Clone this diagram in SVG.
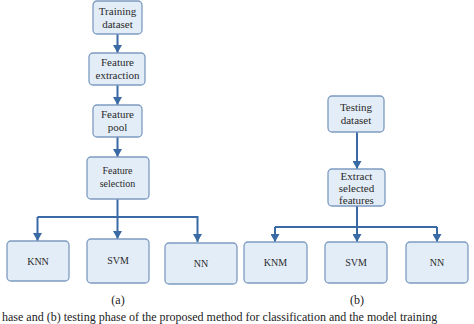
<svg xmlns="http://www.w3.org/2000/svg" width="474" height="324" viewBox="0 0 474 324">
<style>
.box{fill:#e3edf8;stroke:#7d9bc1;stroke-width:1.3}
.t{font-family:"Liberation Serif","DejaVu Serif",serif;font-size:11px;fill:#2a2a2a;text-anchor:middle}
.s{font-size:10px}
.c{fill:none;stroke:#3a6aa5;stroke-width:2}
.cap{font-family:"Liberation Serif","DejaVu Serif",serif;font-size:12px;fill:#222}
</style>
<defs>
<marker id="ah" markerUnits="userSpaceOnUse" markerWidth="10" markerHeight="9" refX="8" refY="4.5" orient="auto">
<path d="M0,0 L8,4.5 L0,9 Z" fill="#3a6aa5"/>
</marker>
</defs>
<rect width="474" height="324" fill="#ffffff"/>
<g id="connectors">
<line class="c" x1="117.5" y1="34" x2="117.5" y2="53" marker-end="url(#ah)"/>
<line class="c" x1="117.5" y1="85" x2="117.5" y2="105" marker-end="url(#ah)"/>
<line class="c" x1="117.5" y1="137" x2="117.5" y2="157" marker-end="url(#ah)"/>
<polyline class="c" points="117.5,199 117.5,217"/>
<polyline class="c" points="37.5,217 197.5,217 197.5,242" marker-end="url(#ah)"/>
<polyline class="c" points="37.5,217 37.5,241" marker-end="url(#ah)"/>
<line class="c" x1="117.5" y1="217" x2="117.5" y2="239" marker-end="url(#ah)"/>
<line class="c" x1="357" y1="132" x2="357" y2="169" marker-end="url(#ah)"/>
<polyline class="c" points="357,206 357,227"/>
<polyline class="c" points="275,227 437,227"/>
<line class="c" x1="275" y1="227" x2="275" y2="242" marker-end="url(#ah)"/>
<line class="c" x1="357" y1="227" x2="357" y2="242" marker-end="url(#ah)"/>
<line class="c" x1="437" y1="227" x2="437" y2="242" marker-end="url(#ah)"/>
</g>
<g id="training-dataset">
<rect class="box" x="93" y="1" width="49" height="33" rx="4"/>
<text class="t" x="117.5" y="15">Training</text>
<text class="t" x="117.5" y="28">dataset</text>
</g>
<g id="feature-extraction">
<rect class="box" x="89" y="53" width="56" height="32" rx="4"/>
<text class="t" x="117.5" y="66">Feature</text>
<text class="t" x="117.5" y="79">extraction</text>
</g>
<g id="feature-pool">
<rect class="box" x="93" y="105" width="49" height="32" rx="4"/>
<text class="t" x="117.5" y="118">Feature</text>
<text class="t" x="117.5" y="131">pool</text>
</g>
<g id="feature-selection">
<rect class="box" x="87" y="157" width="62" height="42" rx="4"/>
<text class="t s" x="117.5" y="174">Feature</text>
<text class="t s" x="117.5" y="187">selection</text>
</g>
<g id="knn-a">
<rect class="box" x="7" y="241" width="62" height="40" rx="4"/>
<text class="t s" x="38" y="265">KNN</text>
</g>
<g id="svm-a">
<rect class="box" x="87" y="239" width="62" height="44" rx="4"/>
<text class="t s" x="118" y="264">SVM</text>
</g>
<g id="nn-a">
<rect class="box" x="165" y="243" width="72" height="41" rx="4"/>
<text class="t s" x="201" y="267">NN</text>
</g>
<g id="testing-dataset">
<rect class="box" x="328" y="96" width="56" height="36" rx="4"/>
<text class="t" x="356" y="111">Testing</text>
<text class="t" x="356" y="124">dataset</text>
</g>
<g id="extract-selected-features">
<rect class="box" x="328" y="169" width="57" height="37" rx="4"/>
<text class="t" x="356.5" y="180">Extract</text>
<text class="t" x="356.5" y="192">selected</text>
<text class="t" x="356.5" y="204">features</text>
</g>
<g id="knm-b">
<rect class="box" x="244" y="242" width="63" height="41" rx="4"/>
<text class="t s" x="275.5" y="266">KNM</text>
</g>
<g id="svm-b">
<rect class="box" x="325" y="242" width="62" height="41" rx="4"/>
<text class="t s" x="356" y="266">SVM</text>
</g>
<g id="nn-b">
<rect class="box" x="406" y="242" width="62" height="41" rx="4"/>
<text class="t s" x="437" y="266">NN</text>
</g>
<text class="cap" x="118" y="304" text-anchor="middle">(a)</text>
<text class="cap" x="357" y="304" text-anchor="middle">(b)</text>
<text class="cap" x="2" y="321" font-size="11">hase and (b) testing phase of the proposed method for classification and the model training</text>
</svg>
